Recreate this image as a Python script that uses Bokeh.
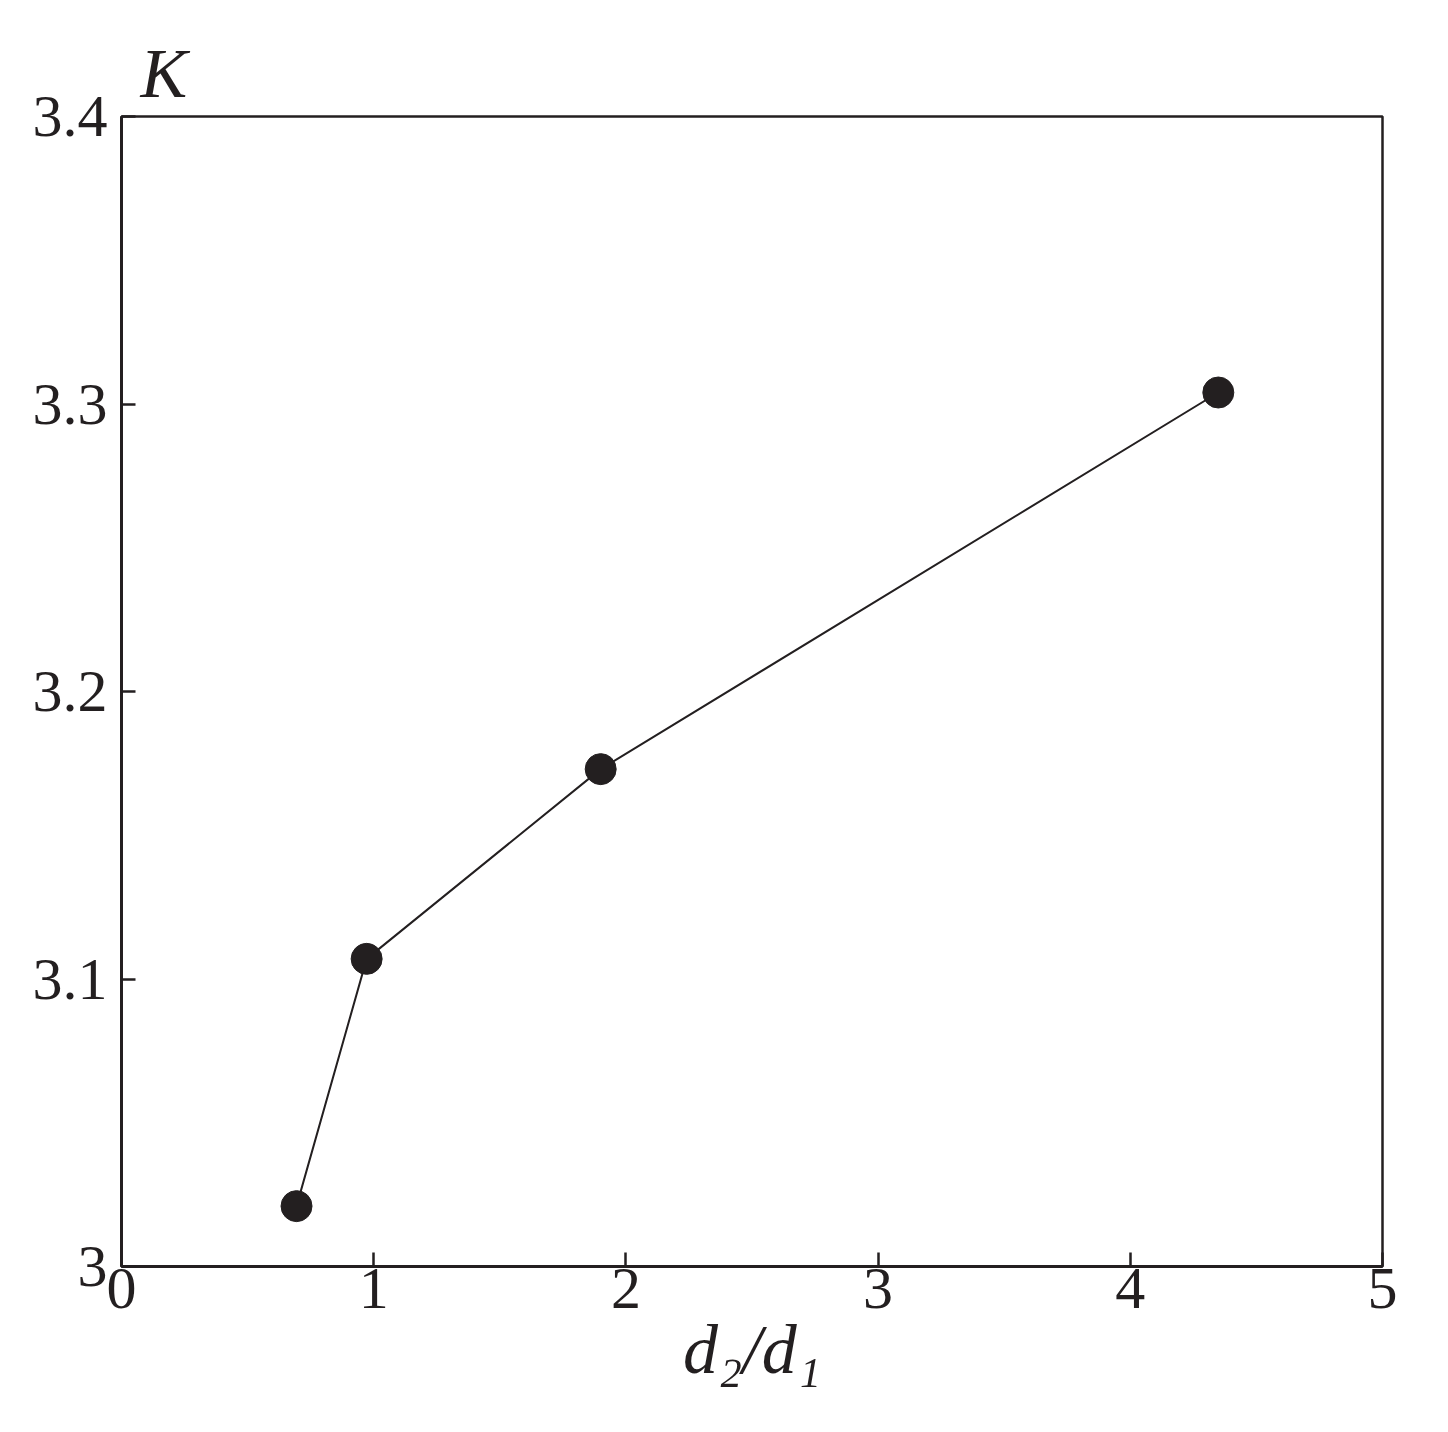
from bokeh.plotting import figure
from bokeh.models import Range1d, FixedTicker, Title
from bokeh.embed import file_html
from bokeh.resources import INLINE

# data
ratio_d2_d1 = [0.694, 0.972, 1.90, 4.349]
K_values = [3.021, 3.107, 3.173, 3.304]

x_ticks = [0, 1, 2, 3, 4, 5]
y_ticks = [3.0, 3.1, 3.2, 3.3, 3.4]
y_tick_labels = {3.0: "3", 3.1: "3.1", 3.2: "3.2", 3.3: "3.3", 3.4: "3.4"}
x_title = "d\u2082/d\u2081"
y_title = "K"

INK = "#231f20"
FONT = "Liberation Serif"
W, H = 1432, 1400

p = figure(width=W, height=H, output_backend="svg", toolbar_location=None,
           x_range=Range1d(0, 5), y_range=Range1d(3.0, 3.4),
           min_border_left=121, min_border_right=50, min_border_top=116,
           min_border_bottom=134)
p.grid.visible = False
p.outline_line_color = INK
p.outline_line_width = 2.5
p.background_fill_color = "white"
p.border_fill_color = "white"

for ax in (p.xaxis[0], p.yaxis[0]):
    ax.axis_line_color = INK
    ax.axis_line_width = 3
    ax.major_tick_line_color = INK
    ax.major_tick_line_width = 2.5
    ax.major_tick_in = 14
    ax.major_tick_out = 0
    ax.minor_tick_line_color = None
    ax.major_label_text_font = FONT
    ax.major_label_text_font_size = "60px"
    ax.major_label_text_color = INK

p.xaxis[0].ticker = FixedTicker(ticks=x_ticks)
p.yaxis[0].ticker = FixedTicker(ticks=y_ticks)
p.yaxis[0].major_label_overrides = y_tick_labels
p.xaxis[0].major_label_standoff = 2
p.yaxis[0].major_label_standoff = 14

xa = p.xaxis[0]
xa.axis_label = x_title
xa.axis_label_text_font = FONT
xa.axis_label_text_font_style = "italic"
xa.axis_label_text_font_size = "70px"
xa.axis_label_text_color = INK
xa.axis_label_standoff = 0

p.add_layout(Title(text=y_title, align="left", offset=19, text_font=FONT,
                   text_font_style="italic", text_font_size="70px",
                   text_color=INK, standoff=10), "above")

p.line(ratio_d2_d1, K_values, line_color=INK, line_width=2)
p.scatter(ratio_d2_d1, K_values, size=31, fill_color=INK, line_color=INK)

open("out.html", "w").write(file_html(p, INLINE))
